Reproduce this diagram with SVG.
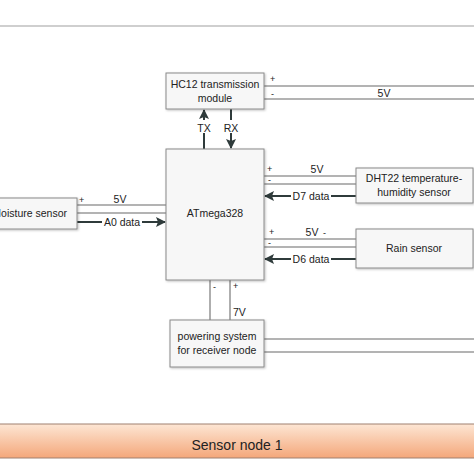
<svg xmlns="http://www.w3.org/2000/svg" width="474" height="474" viewBox="0 0 474 474">
<defs>
<marker id="ah" viewBox="0 0 10 10" refX="9" refY="5" markerWidth="10" markerHeight="10" markerUnits="userSpaceOnUse" orient="auto">
<path d="M0,0 L10,5 L0,10 L2,5 Z" fill="#2f3b3b"/>
</marker>
<linearGradient id="band" x1="0" y1="0" x2="0" y2="1">
<stop offset="0" stop-color="#fde6d4"/>
<stop offset="1" stop-color="#f4a77a"/>
</linearGradient>
<filter id="sh" x="-5%" y="-5%" width="115%" height="115%">
<feDropShadow dx="1" dy="1" stdDeviation="0.8" flood-color="#000" flood-opacity="0.25"/>
</filter>
</defs>
<style>
text{font-family:"Liberation Sans",Arial,sans-serif;font-size:10.5px;fill:#222}
.box{fill:#f7f7f7;stroke:#8a8a8a;stroke-width:1;filter:url(#sh)}
.pw{stroke:#9a9a9a;stroke-width:1.6;fill:none}
.dt{stroke:#2f3b3b;stroke-width:2;fill:none}
.c{text-anchor:middle}
.lbl{font-size:9px}
.bg{fill:#fff}
</style>
<rect width="474" height="474" fill="#fff"/>
<line x1="0" y1="26" x2="474" y2="26" stroke="#a0a0a0" stroke-width="1.2"/>

<g id="connectors">
<line class="pw" x1="264" y1="86" x2="474" y2="86"/>
<line class="pw" x1="264" y1="99" x2="474" y2="99"/>
<text class="lbl" x="270" y="82">+</text>
<text class="lbl" x="271" y="97">-</text>
<text x="384" y="97" class="c">5V</text>
<line class="dt" x1="204" y1="150" x2="204" y2="110" marker-end="url(#ah)"/>
<line class="dt" x1="231" y1="109" x2="231" y2="148" marker-end="url(#ah)"/>
<rect class="bg" x="196" y="120" width="16" height="13"/>
<rect class="bg" x="223" y="120" width="16" height="13"/>
<text x="204" y="132" class="c">TX</text>
<text x="231" y="132" class="c">RX</text>
<line class="pw" x1="77" y1="205" x2="166" y2="205"/>
<line class="pw" x1="77" y1="213" x2="166" y2="213"/>
<line class="dt" x1="77" y1="222" x2="165" y2="222" marker-end="url(#ah)"/>
<text class="lbl" x="79" y="203">+</text>
<text x="120" y="203" class="c">5V</text>
<rect class="bg" x="102" y="216" width="40" height="12"/>
<text x="122" y="226" class="c">A0 data</text>
<line class="pw" x1="264" y1="176" x2="356" y2="176"/>
<line class="pw" x1="264" y1="184" x2="356" y2="184"/>
<line class="dt" x1="356" y1="196" x2="265" y2="196" marker-end="url(#ah)"/>
<text class="lbl" x="267" y="172">+</text>
<text class="lbl" x="268" y="183">-</text>
<text x="317" y="173" class="c">5V</text>
<rect class="bg" x="291" y="190" width="40" height="12"/>
<text x="311" y="200" class="c">D7 data</text>
<line class="pw" x1="264" y1="239" x2="356" y2="239"/>
<line class="pw" x1="264" y1="247" x2="356" y2="247"/>
<line class="dt" x1="356" y1="259" x2="265" y2="259" marker-end="url(#ah)"/>
<text class="lbl" x="269" y="235">+</text>
<text class="lbl" x="268" y="246">-</text>
<text x="312" y="236" class="c">5V</text>
<text class="lbl" x="323" y="236">-</text>
<rect class="bg" x="291" y="253" width="40" height="12"/>
<text x="311" y="263" class="c">D6 data</text>
<line class="pw" x1="210" y1="280" x2="210" y2="320"/>
<line class="pw" x1="230" y1="280" x2="230" y2="320"/>
<text class="lbl" x="213" y="290">-</text>
<text class="lbl" x="233" y="289">+</text>
<text x="233" y="316">7V</text>
<line class="pw" x1="264" y1="339" x2="474" y2="339"/>
<line class="pw" x1="264" y1="352" x2="474" y2="352"/>
</g>

<g id="hc12">
<rect class="box" x="166" y="73" width="98" height="36"/>
<text x="215" y="88" class="c">HC12 transmission</text>
<text x="215" y="102" class="c">module</text>
</g>

<g id="atmega">
<rect class="box" x="166" y="149" width="98" height="131"/>
<text x="215" y="217" class="c">ATmega328</text>
</g>

<g id="moisture">
<rect class="box" x="-10" y="198" width="87" height="31"/>
<text x="67" y="217" text-anchor="end">Moisture sensor</text>
</g>

<g id="dht22">
<rect class="box" x="356" y="168" width="117" height="35"/>
<text x="414" y="182" class="c">DHT22 temperature-</text>
<text x="414" y="196" class="c">humidity sensor</text>
</g>

<g id="rain">
<rect class="box" x="356" y="229" width="117" height="39"/>
<text x="414" y="252" class="c">Rain sensor</text>
</g>

<g id="power">
<rect class="box" x="170" y="320" width="94" height="47"/>
<text x="217" y="340" class="c">powering system</text>
<text x="217" y="354" class="c">for receiver node</text>
</g>

<g id="band-node">
<rect x="-1" y="424" width="476" height="34" fill="url(#band)" stroke="#a08070" stroke-width="1"/>
<text x="237" y="450" class="c" style="font-size:14px">Sensor node 1</text>
</g>
</svg>
